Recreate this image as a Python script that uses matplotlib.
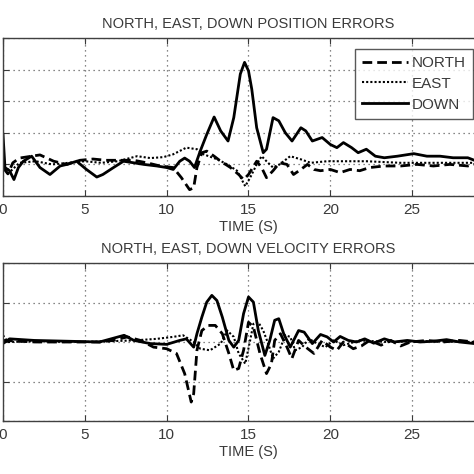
"""North/East/Down position and velocity error plots (MATLAB-style)."""

import matplotlib
matplotlib.use("Agg")
import matplotlib.pyplot as plt

# ---- position errors (top panel) ----
pos_down_t = [0, 0.12, 0.4, 0.67, 0.94, 1.24, 1.75, 2.26, 2.87, 3.49, 3.9, 4.5, 5.1,
              5.73, 6.1, 6.75, 7.36, 8.0, 8.6, 9.4, 10.0, 10.4, 10.8, 11.1, 11.4, 11.7,
              12.05, 12.45, 12.9, 13.3, 13.75, 14.1, 14.5, 14.76, 15.0, 15.2, 15.5, 15.9,
              16.1, 16.5, 16.85, 17.25, 17.66, 18.2, 18.5, 18.9, 19.5, 20.0, 20.4, 20.8,
              21.3, 21.7, 22.2, 22.75, 23.3, 24.1, 25.1, 25.9, 26.7, 27.5, 28.4, 28.8, 30]
pos_down_v = [0.95, -0.1, -0.2, -0.48, -0.1, 0.1, 0.26, -0.1, -0.32, -0.05, 0.0, 0.1, -0.16,
              -0.4, -0.32, -0.1, 0.1, 0.05, 0.0, -0.05, -0.1, -0.16, 0.1, 0.2, 0.1, -0.1,
              0.42, 0.95, 1.5, 1.06, 0.74, 1.48, 2.86, 3.23, 2.96, 2.38, 1.16, 0.37,
              0.48, 1.48, 1.38, 1.0, 0.74, 1.16, 1.06, 0.74, 0.85, 0.63, 0.53, 0.69,
              0.53, 0.37, 0.48, 0.26, 0.21, 0.26, 0.34, 0.26, 0.26, 0.21, 0.21, 0.13, 0.15]

pos_north_t = [0, 0.3, 0.6, 1.0, 2.26, 3.1, 3.9, 4.7, 5.5, 6.3, 7.2, 8.0, 8.8, 9.6, 10.4,
               10.9, 11.4, 11.65, 11.85, 12.15, 12.45, 12.9, 13.3, 13.9, 14.4, 14.7, 15.0,
               15.5, 15.8, 16.1, 16.5, 16.9, 17.35, 17.75, 18.2, 18.6, 19.0, 19.4, 20.0,
               20.6, 21.2, 21.8, 22.4, 23.3, 24.3, 25.3, 26.3, 27.3, 28.4, 28.8, 30]
pos_north_v = [-0.1, -0.3, 0.05, 0.2, 0.3, 0.1, 0.0, 0.13, 0.17, 0.13, 0.13, 0.13, 0.05, -0.05, -0.1,
               -0.42, -0.8, -0.74, -0.1, 0.37, 0.42, 0.26, 0.1, -0.1, -0.32, -0.48, -0.32,
               0.1, -0.1, -0.42, -0.2, 0.05, 0.0, -0.32, -0.16, 0.0, -0.16, -0.2, -0.16,
               -0.26, -0.16, -0.2, -0.1, -0.05, -0.05, 0.0, -0.05, 0.0, -0.05, 0.0, -0.02]

pos_east_t = [0, 0.5, 1.0, 2.0, 3.0, 4.0, 5.0, 6.0, 7.0, 8.2, 9.0, 9.8, 10.4, 11.2, 11.85,
              12.25, 13.1, 13.7, 14.3, 14.8, 15.1, 15.5, 15.8, 16.1, 16.5, 16.9, 17.55,
              18.2, 18.8, 19.8, 20.8, 22.2, 24.3, 26.3, 28.8, 30]
pos_east_v = [-0.1, -0.2, 0.05, 0.1, 0.0, 0.05, 0.1, 0.05, 0.1, 0.26, 0.2, 0.23, 0.32, 0.53, 0.48,
              0.32, 0.16, 0.0, -0.2, -0.69, -0.42, 0.0, 0.26, 0.1, -0.1, 0.0, 0.26,
              0.16, 0.05, 0.1, 0.1, 0.1, 0.05, 0.05, 0.05, 0.05]

# ---- velocity errors (bottom panel) ----
vel_down_t = [0, 0.4, 1.9, 3.9, 5.9, 7.4, 8.0, 9.0, 10.0, 10.8, 11.2, 11.65, 11.85, 12.15,
              12.45, 12.76, 13.07, 13.4, 13.8, 14.1, 14.4, 14.7, 15.0, 15.3, 15.6, 16.0,
              16.3, 16.6, 16.85, 17.15, 17.55, 18.06, 18.4, 18.9, 19.4, 19.8, 20.2, 20.6,
              21.1, 21.6, 22.1, 22.65, 23.3, 23.9, 24.7, 25.5, 26.3, 27.1, 27.9, 28.8, 30]
vel_down_v = [-0.04, 0.08, 0.04, 0.02, 0.0, 0.17, 0.04, -0.04, -0.06, 0.04, 0.08, -0.13, 0.21, 0.63,
              1.01, 1.18, 1.05, 0.63, 0.04, -0.13, 0.04, 0.72, 1.14, 1.01, 0.29, -0.34,
              0.04, 0.55, 0.59, 0.21, -0.13, 0.29, 0.25, -0.04, 0.19, 0.13, 0.0, 0.14,
              0.04, 0.0, 0.08, -0.03, 0.08, 0.0, 0.04, 0.0, 0.02, 0.06, 0.0, -0.04, 0.0]

vel_north_t = [0, 2.0, 4.0, 5.9, 6.75, 7.6, 8.4, 9.2, 10.0, 10.6, 11.1, 11.5, 11.65, 11.85,
               12.15, 12.55, 12.97, 13.4, 13.8, 14.1, 14.4, 14.7, 15.0, 15.3, 15.7, 16.1,
               16.4, 16.6, 16.95, 17.35, 17.65, 18.06, 18.5, 19.0, 19.5, 20.0, 20.4, 20.8,
               21.4, 21.9, 22.4, 23.1, 23.7, 24.3, 24.9, 25.9, 26.9, 27.9, 28.8, 30]
vel_north_v = [0.04, 0.0, 0.0, 0.0, 0.04, 0.13, 0.04, -0.13, -0.17, -0.29, -0.8, -1.52, -1.31, -0.21,
               0.29, 0.42, 0.42, 0.21, -0.29, -0.72, -0.67, -0.21, 0.5, 0.38, -0.29, -0.8,
               -0.55, 0.04, 0.21, -0.13, -0.42, 0.04, -0.13, -0.29, 0.04, -0.13, -0.21, 0.0,
               -0.17, -0.1, 0.04, -0.08, 0.04, -0.1, 0.0, 0.04, 0.0, 0.04, 0.0, 0.0]

vel_east_t = [0, 0.3, 2.0, 5.0, 8.0, 9.4, 10.4, 11.0, 11.65, 12.05, 12.65, 13.3, 13.7, 14.1,
              14.4, 14.8, 15.1, 15.3, 15.6, 15.9, 16.2, 16.5, 16.85, 17.25, 17.55, 17.85,
              18.27, 18.7, 19.2, 19.7, 20.2, 20.8, 21.8, 23.5, 26.0, 28.8, 30]
vel_east_v = [0.17, 0.0, 0.02, 0.0, 0.04, 0.08, 0.13, 0.17, 0.0, -0.17, -0.21, -0.04, 0.29, 0.13,
              -0.29, -0.55, 0.04, 0.46, 0.5, 0.29, -0.04, -0.42, -0.25, 0.17, 0.13, -0.21,
              -0.13, 0.08, -0.04, -0.13, 0.04, -0.08, 0.04, 0.0, 0.02, 0.0, 0.0]

series_labels = ["NORTH", "EAST", "DOWN"]
x_ticks = [0, 5, 10, 15, 20, 25]

TEXT_COLOR = "#3a3a3a"
plt.rcParams["font.family"] = ["Liberation Sans", "DejaVu Sans"]

NORTH_STYLE = dict(color="black", linewidth=2.0, linestyle=(0, (3.5, 1.8)))
EAST_STYLE = dict(color="black", linewidth=1.5, linestyle=(0, (1, 1)))
DOWN_STYLE = dict(color="black", linewidth=2.0, linestyle="-")


def style_axis(axis, ylim, yticks, title):
    axis.set_xlim(0, 30)
    axis.set_ylim(*ylim)
    axis.set_xticks(x_ticks)
    axis.set_yticks(yticks)
    # y tick labels sit left of the visible area in the original, so leave them out
    axis.tick_params(direction="in", length=4, top=True, right=True, labelleft=False,
                     labelsize=11, colors=TEXT_COLOR, pad=5)
    axis.grid(True, linestyle=(0, (1, 3)), linewidth=0.9, color="#606060")
    for spine in axis.spines.values():
        spine.set_color("#404040")
        spine.set_linewidth(1.0)
    axis.set_xlabel("TIME (S)", fontsize=10.5, color=TEXT_COLOR, labelpad=2)
    axis.set_title(title, fontsize=10.5, color=TEXT_COLOR, pad=7)


figure = plt.figure(figsize=(4.74, 4.74), dpi=100)
ax_pos = figure.add_axes([3 / 474, 1 - 196 / 474, 491 / 474, 158 / 474])
ax_vel = figure.add_axes([3 / 474, 1 - 421 / 474, 491 / 474, 158 / 474])

ax_pos.plot(pos_north_t, pos_north_v, label=series_labels[0], **NORTH_STYLE)
ax_pos.plot(pos_east_t, pos_east_v, label=series_labels[1], **EAST_STYLE)
ax_pos.plot(pos_down_t, pos_down_v, label=series_labels[2], **DOWN_STYLE)
style_axis(ax_pos, (-1, 4), [-1, 0, 1, 2, 3, 4], "NORTH, EAST, DOWN POSITION ERRORS")

legend = ax_pos.legend(loc="upper right", bbox_to_anchor=(473 / 474, 1 - 49 / 474),
                       bbox_transform=figure.transFigure, fontsize=11, frameon=True,
                       fancybox=False, borderpad=0.45, handlelength=3.0,
                       handletextpad=0.3, labelspacing=0.45, borderaxespad=0)
legend.get_frame().set_edgecolor("#303030")
legend.get_frame().set_linewidth(1.0)
for text in legend.get_texts():
    text.set_color(TEXT_COLOR)

ax_vel.plot(vel_north_t, vel_north_v, **NORTH_STYLE)
ax_vel.plot(vel_east_t, vel_east_v, **EAST_STYLE)
ax_vel.plot(vel_down_t, vel_down_v, **DOWN_STYLE)
style_axis(ax_vel, (-2, 2), [-2, -1, 0, 1, 2], "NORTH, EAST, DOWN VELOCITY ERRORS")

figure.savefig("out.png", dpi=100)
